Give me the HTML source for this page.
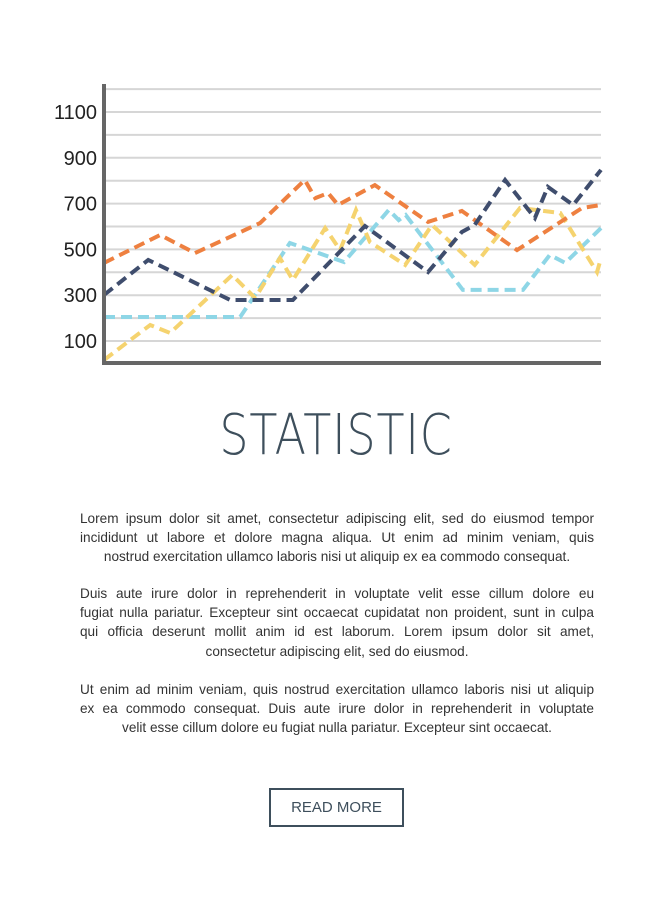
<!DOCTYPE html>
<html><head><meta charset="utf-8"><style>
body{margin:0;background:#fff;width:672px;height:900px;position:relative;overflow:hidden;font-family:"Liberation Sans",sans-serif}
#chart{position:absolute;left:0;top:0}
.title{position:absolute;left:0;width:672px;top:403px;text-align:center;font-size:56px;font-weight:100;color:#3e4f5c;letter-spacing:1px;-webkit-text-stroke:0;font-family:"DejaVu Sans",sans-serif;transform:scaleX(0.82)}
.para{position:absolute;left:80px;width:514px;font-size:13.6px;color:#333;line-height:19.2px}
.para div{text-align:justify;text-align-last:justify;white-space:nowrap}
.para div.last{text-align-last:center;text-align:center}
.btn{position:absolute;left:269px;top:788px;width:131px;height:35px;border:2px solid #3e4f5c;color:#3e4f5c;font-size:15px;text-align:center;line-height:35px;box-sizing:content-box}
</style></head><body>
<svg id="chart" width="672" height="400"></svg>
<div class="title">STATISTIC</div>
<div class="para" style="top:509px">
<div>Lorem ipsum dolor sit amet, consectetur adipiscing elit, sed do eiusmod tempor</div>
<div>incididunt ut labore et dolore magna aliqua. Ut enim ad minim veniam, quis</div>
<div class="last">nostrud exercitation ullamco laboris nisi ut aliquip ex ea commodo consequat.</div>
</div>
<div class="para" style="top:584px">
<div>Duis aute irure dolor in reprehenderit in voluptate velit esse cillum dolore eu</div>
<div>fugiat nulla pariatur. Excepteur sint occaecat cupidatat non proident, sunt in culpa</div>
<div>qui officia deserunt mollit anim id est laborum. Lorem ipsum dolor sit amet,</div>
<div class="last">consectetur adipiscing elit, sed do eiusmod.</div>
</div>
<div class="para" style="top:680px">
<div>Ut enim ad minim veniam, quis nostrud exercitation ullamco laboris nisi ut aliquip</div>
<div>ex ea commodo consequat. Duis aute irure dolor in reprehenderit in voluptate</div>
<div class="last">velit esse cillum dolore eu fugiat nulla pariatur. Excepteur sint occaecat.</div>
</div>
<div class="btn">READ MORE</div>
<script>
const tickLabels=[100,300,500,700,900,1100];
const gridValues=[100,200,300,400,500,600,700,800,900,1000,1100,1200];
const orangeX=[0,11.3,18.3,31.4,40.4,42.5,45.1,47.1,54.5,65.2,72,83.1,96.2,100];
const orangeY=[441,563,484,615,803,724,746,694,781,620,668,497,681,694];
const navyX=[0,8.9,25.4,38,52.5,65.2,72,74.6,80.7,86.7,89.3,94.4,100];
const navyY=[301,454,279,279,602,401,576,607,803,637,773,694,847];
const yellowX=[0,9.3,13.3,25.8,30.4,35.4,38,44.5,47.5,50.7,53.5,60.6,66,74.6,83.7,91.8,99.2,100];
const yellowY=[17,170,135,388,288,462,366,593,497,672,532,432,607,432,681,659,401,462];
const blueX=[0,27.4,37.4,48.3,57.3,59.3,60.7,72.2,84.3,89.7,92.8,100];
const blueY=[205,205,528,445,672,628,650,323,323,476,441,593];

const NS="http://www.w3.org/2000/svg";
const svg=document.getElementById('chart');
const L=104,R=601,B=363;
const xs=x=>L+x/100*(R-L);
const ys=v=>341-(v-100)*0.229;
function mk(t,a){const e=document.createElementNS(NS,t);for(const k in a)e.setAttribute(k,a[k]);svg.appendChild(e);return e;}
gridValues.forEach(v=>{
  const g=mk('line',{x1:L,x2:R,y1:ys(v),y2:ys(v),stroke:'#d6d6d6','stroke-width':2});
  
  
});
tickLabels.forEach(v=>{
  const t=mk('text',{x:97,y:ys(v)+7,'text-anchor':'end','font-size':20,fill:'#222','font-family':'Liberation Sans Narrow, Liberation Sans, sans-serif'});
  t.textContent=v;
  
  
});
function series(X,Y,color,name){
  const p=mk('polyline',{points:X.map((x,i)=>xs(x)+','+ys(Y[i])).join(' '),fill:'none',stroke:color,'stroke-width':4,'stroke-dasharray':'11 6','stroke-linejoin':'miter'});
  
  
}
series(blueX,blueY,'#8ed6e6','series-light-blue');
series(yellowX,yellowY,'#f5d36f','series-yellow');
series(orangeX,orangeY,'#ee8040','series-orange');
series(navyX,navyY,'#3f4d6d','series-navy');
const ya=mk('line',{x1:L,x2:L,y1:84,y2:B+2,stroke:'#666','stroke-width':4});


const xa=mk('line',{x1:L-2,x2:R,y1:B,y2:B,stroke:'#666','stroke-width':4});


</script>
</body></html>
